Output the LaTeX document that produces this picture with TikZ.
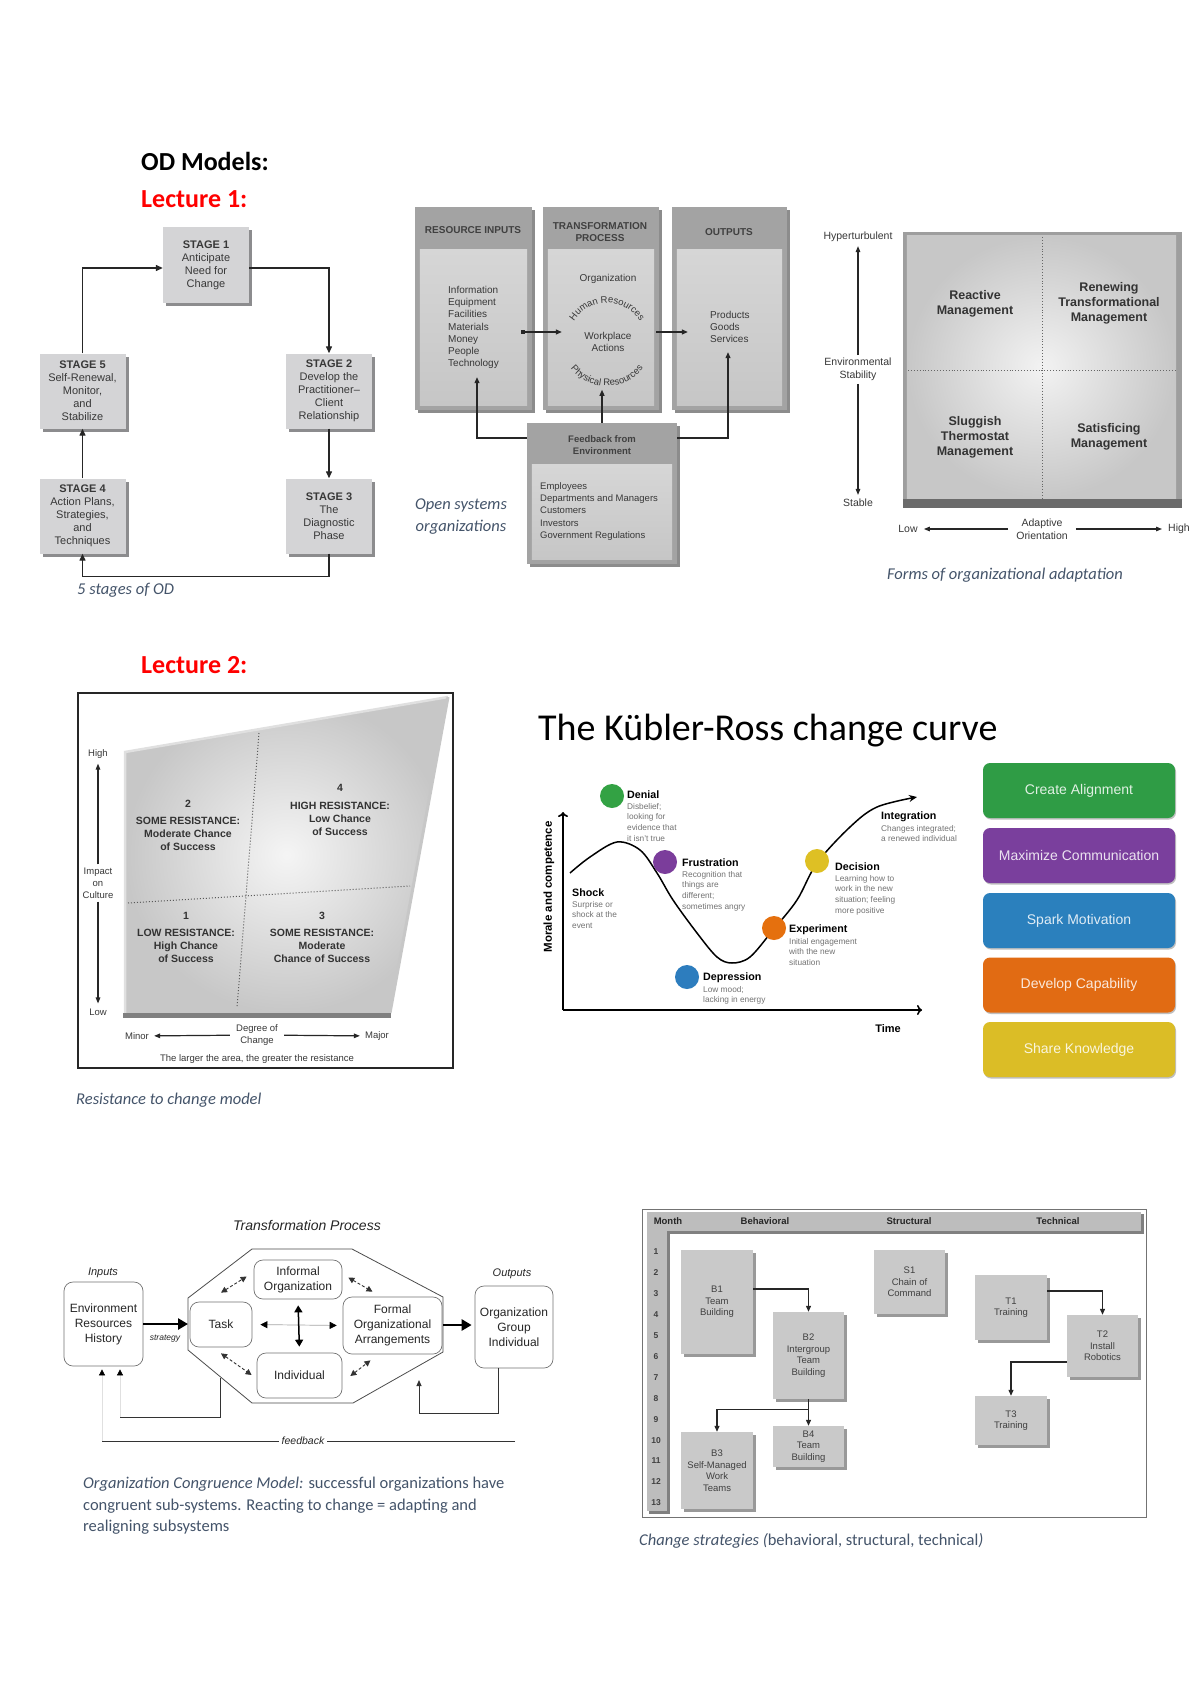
\documentclass[tikz,border=0pt]{standalone}
\usepackage{fontspec}
\setmainfont{Liberation Sans}
\newfontfamily\calfont{Carlito}
\usetikzlibrary{arrows.meta,shadows,decorations.text,calc}
\newcommand\myfs[2]{\fontsize{#1}{#2}\selectfont}
\definecolor{capblue}{HTML}{44546A}
\definecolor{lecred}{HTML}{FF0000}
\definecolor{stgray}{HTML}{D4D4D6}
\definecolor{shgray}{HTML}{8C8C8E}
\definecolor{dtext}{HTML}{383838}
\definecolor{osframe}{HTML}{A3A3A3}
\definecolor{osmid}{HTML}{D6D6D6}
\definecolor{oslight}{HTML}{EDEDED}
\definecolor{osdark}{HTML}{C6C6C6}
\definecolor{kgreen}{HTML}{33A244}
\definecolor{kpurple}{HTML}{7B3D9B}
\definecolor{kblue}{HTML}{2D7DBE}
\definecolor{korange}{HTML}{E5700E}
\definecolor{kyellow}{HTML}{DEC024}
\definecolor{bgreen}{HTML}{2F9C45}
\definecolor{bpurple}{HTML}{7A3F9D}
\definecolor{bblue}{HTML}{2B80BD}
\definecolor{borange}{HTML}{E16B13}
\definecolor{byellow}{HTML}{DBBD26}
\definecolor{csgray}{HTML}{C9C9C9}
\definecolor{csbar}{HTML}{BDBDBD}
\begin{document}
\begin{tikzpicture}[x=1pt,y=-1pt,
  stagebox/.style={fill=stgray, minimum width=86, minimum height=75, inner sep=1pt, align=center, font=\myfs{11}{13}, text=dtext, drop shadow={shadow xshift=3pt, shadow yshift=-3pt, fill=shgray, opacity=1}},
  sconn/.style={draw=black!85, line width=1.3pt, -{Triangle[length=7pt,width=6pt]}},
  captxt/.style={font=\calfont\itshape\myfs{16.5}{22}, text=capblue, inner sep=0pt},
  lecture/.style={font=\calfont\bfseries\myfs{26}{30}, inner sep=0pt, anchor=west},
  osbox/.style={fill=osframe, minimum height=203, inner sep=0pt, drop shadow={shadow xshift=3pt, shadow yshift=-3pt, fill=black!45, opacity=1}},
  oshead/.style={font=\bfseries\myfs{10}{12}, text=black!75, align=center, inner sep=0pt},
  ostext/.style={font=\myfs{10}{12.2}, text=dtext, align=left, inner sep=0pt, anchor=west},
  osarr/.style={draw=black!85, line width=1.2pt, -{Triangle[length=6pt,width=5pt]}},
  qlabel/.style={font=\bfseries\myfs{12.5}{15}, text=black!80, align=center, inner sep=0pt},
  axlab/.style={font=\myfs{10.5}{12.5}, text=dtext, align=center, inner sep=0pt},
  axarr/.style={draw=black!85, line width=1.2pt, -{Triangle[length=6pt,width=4.5pt]}},
  rlabel/.style={font=\bfseries\myfs{10.5}{13}, text=black!80, align=center, inner sep=0pt},
  ktitle/.style={font=\bfseries\myfs{10.7}{12}, anchor=west, inner sep=0pt},
  ksub/.style={font=\myfs{8.3}{10.7}, text=black!55, anchor=north west, align=left, inner sep=0pt},
  kdot/.style={circle, minimum size=24, inner sep=0pt},
  btn/.style={rounded corners=7pt, minimum width=192, minimum height=55, inner sep=0pt, font=\myfs{14}{16}, text=white, text opacity=0.85, drop shadow={shadow xshift=1pt, shadow yshift=-1.5pt, fill=black!25, opacity=1}},
  cbox/.style={draw=black!55, line width=0.7pt, rounded corners=9pt, inner sep=0pt, align=center, font=\myfs{12}{15}, text=black!85},
  cline/.style={draw=black!70, line width=0.8pt},
  cthick/.style={draw=black, line width=2.6pt, -{Triangle[length=10pt,width=11pt]}},
  cdiag/.style={draw=black!80, line width=0.9pt, densely dashed, {Triangle[length=6pt,width=6pt]}-{Triangle[length=6pt,width=6pt]}},
  cfb/.style={draw=black!80, line width=0.9pt},
  cmlab/.style={font=\itshape\myfs{11}{13}, text=black!85, inner sep=1pt},
  csbox/.style={fill=csgray, inner sep=0pt, align=center, font=\myfs{9.5}{11.5}, text=black!75, drop shadow={shadow xshift=3pt, shadow yshift=-3pt, fill=black!40, opacity=1}},
  csarr/.style={draw=black!85, line width=1.1pt, -{Triangle[length=6pt,width=5pt]}},
]
\fill[white] (0,0) rectangle (1200,1696);
\useasboundingbox (0,0) rectangle (1200,1696);

% ---------------- Section 1: five stages
\node[lecture] (odm) at (141,161) {OD Models:};
\node[lecture, text=lecred] (lec1) at (141,199) {Lecture 1:};
\node[stagebox] (s1) at (206,265) {\textbf{STAGE 1}\\Anticipate\\Need for\\Change};
\node[stagebox] (s2) at (329,391) {\textbf{STAGE 2}\\Develop the\\Practitioner--\\Client\\Relationship};
\node[stagebox] (s3) at (329,516) {\textbf{STAGE 3}\\The\\Diagnostic\\Phase};
\node[stagebox] (s4) at (82.5,516) {\textbf{STAGE 4}\\Action Plans,\\Strategies,\\and\\Techniques};
\node[stagebox] (s5) at (82.5,391) {\textbf{STAGE 5}\\Self-Renewal,\\Monitor,\\and\\Stabilize};
\draw[sconn] (s5.north) |- ($(s1.west)+(0,3)$);
\draw[sconn] ($(s1.east)+(0,3)$) -| (s2.north);
\draw[sconn] (s2.south) -- (s3.north);
\draw[sconn] (s3.south) -- ++(0,23) -| (s4.south);
\draw[sconn] (s4.north) -- (s5.south);
\node[captxt, anchor=west] (cap1) at (77,590) {5 stages of OD};

% ---------------- Section 2: open systems
\node[osbox, minimum width=117] (ri) at (473.5,308.5) {};
\node[osbox, minimum width=116] (tp) at (601,308.5) {};
\node[osbox, minimum width=115] (op) at (729.5,308.5) {};
\foreach \b in {ri,tp,op}
  \shade[top color=osmid, middle color=oslight, bottom color=osdark] ($(\b.north west)+(5,43)$) rectangle ($(\b.south east)+(-5,-5)$);
\node[oshead] (rih) at (473,230) {RESOURCE INPUTS};
\node[oshead] (tph) at (600,232) {TRANSFORMATION\\PROCESS};
\node[oshead] (oph) at (729,232) {OUTPUTS};
\node[ostext] (rit) at (448,327.5) {Information\\Equipment\\Facilities\\Materials\\Money\\People\\Technology};
\node[ostext, anchor=center, align=center] (tpo) at (608,279) {Organization};
\node[ostext, anchor=center, align=center] (tpw) at (608,342) {Workplace\\Actions};
\path[decorate, decoration={text along path, text align=center, text={|\myfs{9.5}{10}\color{dtext}|Human Resources}}] (607,342) ++(-168:39) arc[start angle=-168, end angle=-12, radius=39];
\path[decorate, decoration={text along path, text align=center, text={|\myfs{9.5}{10}\color{dtext}|Physical Resources}}] (607,340) ++(165:46) arc[start angle=165, end angle=15, radius=46];
\node[ostext] (opt) at (710,327) {Products\\Goods\\Services};
\coordinate (riout) at ($(ri.east)+(-11,23.5)$);
\coordinate (tpin) at ($(tp.west)+(19,23.5)$);
\draw[osarr, {Square[length=4pt,width=4pt]}-{Triangle[length=6pt,width=5pt]}] (riout) -- (tpin);
\coordinate (tpout) at ($(tp.east)+(-3,23.5)$);
\coordinate (opin) at ($(op.west)+(16,23.5)$);
\draw[osarr] (tpout) -- (opin);
\node[osbox, minimum width=150, minimum height=141] (fb) at (602,493.5) {};
\shade[top color=osmid, middle color=oslight, bottom color=osdark] ($(fb.north west)+(5,42)$) rectangle ($(fb.south east)+(-5,-5)$);
\node[oshead, font=\bfseries\myfs{9.5}{12}] (fbh) at (602,445) {Feedback from\\Environment};
\node[ostext, font=\myfs{9.5}{12.2}] (fbt) at (540,511.5) {Employees\\Departments and Managers\\Customers\\Investors\\Government Regulations};
\draw[osarr] ($(fb.west)+(0,-55.5)$) -| ($(ri.south)+(3.5,-33)$);
\draw[osarr] (fb.north) -- ++(0,-33);
\draw[osarr] ($(fb.east)+(0,-55.5)$) -| ($(op.south)+(-1.5,-58)$);
\node[captxt, align=center] (cap2) at (461,517) {Open systems\\organizations};

% ---------------- Section 3: forms of adaptation
\node[fill=black!38, minimum width=279, minimum height=276, inner sep=0pt] (fsq) at (1042.5,370) {};
\fill[black!58] ($(fsq.south west)+(0,-9)$) rectangle (fsq.south east);
\shade[inner color=white!95!black, outer color=black!22] ($(fsq.north west)+(4,4)$) rectangle ($(fsq.south east)+(-6,-10)$);
\draw[black!60, line width=0.9pt, dotted] (1042,237) -- (1042,499);
\draw[black!60, line width=0.9pt, dotted] (908,370) -- (1175,370);
\node[qlabel] (qra) at (975,303.5) {Reactive\\Management};
\node[qlabel] (qrt) at (1109,303) {Renewing\\Transformational\\Management};
\node[qlabel] (qst) at (975,437) {Sluggish\\Thermostat\\Management};
\node[qlabel] (qsm) at (1109,436.5) {Satisficing\\Management};
\node[axlab] (hyp) at (858,237) {Hyperturbulent};
\node[axlab] (env) at (858,369.5) {Environmental\\Stability};
\node[axlab] (stb) at (858,503) {Stable};
\draw[axarr, shorten >=4pt, shorten <=3pt] (env) -- (hyp);
\draw[axarr, shorten >=4pt, shorten <=3pt] (env) -- (stb);
\node[axlab] (low) at (908,529) {Low};
\node[axlab] (ado) at (1042,529) {Adaptive\\Orientation};
\node[axlab] (high) at (1179,529) {High};
\draw[axarr, shorten >=6pt, shorten <=8pt] (ado) -- (low);
\draw[axarr, shorten >=6pt, shorten <=8pt] (ado) -- (high);
\node[captxt] (cap3) at (1005,575) {Forms of organizational adaptation};

% ---------------- Section 4: resistance to change
\node[lecture, text=lecred] (lec2) at (141,665) {Lecture 2:};
\node[draw=black!85, line width=1.2pt, minimum width=375, minimum height=375, inner sep=0pt] (rframe) at (265.5,880.5) {};
\shade[inner color=white!96!black, outer color=black!22] (125,752) -- (448,697) -- (390,1013) -- (125,1013) -- cycle;
\draw[black!12, line width=2.5pt] (125,1013) -- (125,752) -- (448,697);
\draw[black!22, line width=3pt] (448,697) -- (390,1013);
\draw[black!50, line width=5pt] (123,1015) -- (391,1015);
\draw[black!65, line width=1pt, dotted] (259,733) -- (237,1008);
\draw[black!65, line width=1pt, dotted] (128,903) -- (410,886);
\node[rlabel] (rq2) at (188,825) {2\\[4pt]SOME RESISTANCE:\\Moderate Chance\\of Success};
\node[rlabel] (rq4) at (340,810) {4\\[5pt]HIGH RESISTANCE:\\Low Chance\\of Success};
\node[rlabel] (rq1) at (186,937.5) {1\\[4pt]LOW RESISTANCE:\\High Chance\\of Success};
\node[rlabel] (rq3) at (322,937.5) {3\\[4pt]SOME RESISTANCE:\\Moderate\\Chance of Success};
\node[axlab, font=\myfs{9.5}{12}] (rhigh) at (98,754) {High};
\node[axlab, font=\myfs{9.5}{12}] (rimp) at (98,883) {Impact\\on\\Culture};
\node[axlab, font=\myfs{9.5}{12}] (rlow) at (98,1012) {Low};
\draw[axarr, shorten >=5pt, shorten <=3pt] (rimp) -- (rhigh);
\draw[axarr, shorten >=5pt, shorten <=3pt] (rimp) -- (rlow);
\node[axlab, font=\myfs{9.5}{12}] (rminor) at (137,1036) {Minor};
\node[axlab, font=\myfs{9.5}{12}] (rdeg) at (257,1035) {Degree of\\Change};
\node[axlab, font=\myfs{9.5}{12}] (rmajor) at (377,1036) {Major};
\draw[axarr, shorten >=5pt, shorten <=6pt] (rdeg) -- (rminor);
\draw[axarr, shorten >=5pt, shorten <=6pt] (rdeg) -- (rmajor);
\node[axlab, font=\myfs{9.5}{12}] (rnote) at (257,1059) {The larger the area, the greater the resistance};
\node[captxt, anchor=west] (cap4) at (76,1100) {Resistance to change model};

% ---------------- Section 5: Kubler-Ross curve
\node[font=\calfont\myfs{38}{44}, anchor=west, inner sep=0pt] (krt) at (538,731) {The Kübler-Ross change curve};
\coordinate (korig) at (563,1010);
\coordinate (ktop) at (563,812);
\coordinate (kright) at (922,1010);
\draw[line width=1.6pt, -{To[length=5pt,width=10pt]}] (korig) -- (ktop);
\draw[line width=1.6pt, -{To[length=5pt,width=10pt]}] (korig) -- (kright);
\node[rotate=90, font=\bfseries\myfs{11.5}{13}, inner sep=0pt] (kmor) at (549,887) {Morale and competence};
\node[font=\bfseries\myfs{11}{13}, inner sep=0pt] (ktime) at (888,1029) {Time};
\draw[line width=1.5pt, -{Stealth[length=8pt,width=7pt]}] plot[smooth, tension=0.55] coordinates {(570,873) (590,857) (617,842) (640,850) (657,873) (673,900) (697,933) (717,957) (732,963) (750,957) (773,930) (797,900) (817,863) (850,827) (877,807) (917,797)};
\node[kdot, fill=kgreen] (kden) at (612,796) {};
\node[kdot, fill=kpurple] (kfru) at (665,862) {};
\node[kdot, fill=kblue] (kdep) at (687,977) {};
\node[kdot, fill=korange] (kexp) at (774,928) {};
\node[kdot, fill=kyellow] (kdec) at (817,861) {};
\node[ktitle] (tden) at (627,795) {Denial};
\node[ksub] (sden) at (627,803) {Disbelief;\\looking for\\evidence that\\it isn't true};
\node[ktitle] (tfru) at (682,863) {Frustration};
\node[ksub] (sfru) at (682,871) {Recognition that\\things are\\different;\\sometimes angry};
\node[ktitle] (tsho) at (572,893) {Shock};
\node[ksub] (ssho) at (572,901) {Surprise or\\shock at the\\event};
\node[ktitle] (tdep) at (703,978) {Depression};
\node[ksub] (sdep) at (703,986) {Low mood;\\lacking in energy};
\node[ktitle] (texp) at (789,930) {Experiment};
\node[ksub] (sexp) at (789,938) {Initial engagement\\with the new\\situation};
\node[ktitle] (tdec) at (835,867) {Decision};
\node[ksub] (sdec) at (835,875) {Learning how to\\work in the new\\situation; feeling\\more positive};
\node[ktitle] (tint) at (881,817) {Integration};
\node[ksub] (sint) at (881,825) {Changes integrated;\\a renewed individual};

% ---------------- Section 6: buttons
\node[btn, fill=bgreen] (b1) at (1079,790.5) {Create Alignment};
\node[btn, fill=bpurple] (b2) at (1079,855.5) {Maximize Communication};
\node[btn, fill=bblue] (b3) at (1079,920.5) {Spark Motivation};
\node[btn, fill=borange] (b4) at (1079,985) {Develop Capability};
\node[btn, fill=byellow] (b5) at (1079,1049.5) {Share Knowledge};

% ---------------- Section 7: congruence model
\node[cmlab, font=\itshape\myfs{14}{16}] (ctp) at (307,1225) {Transformation Process};
\node[cmlab] (cin) at (103,1273) {Inputs};
\node[cmlab] (cout) at (512,1274) {Outputs};
\node[cbox, minimum width=79, minimum height=84] (cenv) at (103.5,1324) {Environment\\Resources\\History};
\node[cbox, minimum width=78, minimum height=82] (coutb) at (514,1327) {Organization\\Group\\Individual};
\draw[cline] (188,1298) -- (252,1249) -- (352,1249) -- (443,1297) -- (443,1352) -- (353,1403) -- (252,1403) -- (188,1350) -- cycle;
\node[cbox, minimum width=62, minimum height=45] (ctask) at (221,1324.5) {Task};
\node[cbox, minimum width=88, minimum height=39] (cinf) at (298,1279.5) {Informal\\Organization};
\node[cbox, minimum width=99, minimum height=57] (cform) at (392.5,1325.5) {Formal\\Organizational\\Arrangements};
\node[cbox, minimum width=85, minimum height=45] (cind) at (299.5,1375.5) {Individual};
\draw[draw=black!35, line width=0.7pt, shorten <=8pt, shorten >=6pt, {Triangle[length=7pt,width=7pt,color=black]}-{Triangle[length=7pt,width=7pt,color=black]}] (ctask.east) -- (cform.west);
\draw[draw=black, line width=1.5pt, shorten <=6pt, shorten >=6pt, {Triangle[length=7pt,width=8pt]}-{Triangle[length=7pt,width=8pt]}] (cinf.south) -- (cind.north);
\draw[cdiag] ($(ctask.north)+(0,-9)$) -- ($(cinf.west)+(-7,-3)$);
\draw[cdiag] ($(cinf.east)+(6,-2)$) -- ($(cform.north)+(-20,-5)$);
\draw[cdiag] ($(ctask.south)+(0,6)$) -- ($(cind.west)+(-5,-0.5)$);
\draw[cdiag] ($(cind.east)+(8,0.5)$) -- ($(cform.south)+(-22,6)$);
\coordinate (coctl) at (188,1324);
\coordinate (coctr) at (443,1325);
\draw[cthick] (cenv.east) -- (coctl);
\node[cmlab, font=\itshape\myfs{8.5}{10}] (cstrat) at (165,1339) {strategy};
\draw[cthick] (coctr) -- ($(coutb.west)+(-3,-2)$);
\coordinate (cfbin) at (419,1380);
\draw[cfb, -{Triangle[length=6pt,width=5pt]}] ($(coutb.south)+(-16,0)$) -- ++(0,45) -| (cfbin);
\coordinate (coctbl) at (220,1378);
\draw[cfb] (coctbl) -- ++(0,39) -- (120,1417);
\draw[draw=black!12, line width=0.6pt, -{Triangle[length=6pt,width=6pt,color=black]}] (120,1417) -- ($(cenv.south)+(16.5,3)$);
\draw[cfb] (515,1441) -- (102,1441);
\draw[draw=black!12, line width=0.6pt, -{Triangle[length=6pt,width=6pt,color=black]}] (102,1441) -- ($(cenv.south)+(-1.5,3)$);
\node[cmlab, fill=white, font=\itshape\myfs{10.5}{12}, inner sep=3pt] (cfbl) at (303,1441) {feedback};
\node[font=\calfont\myfs{16.5}{21.5}, text=capblue, anchor=west, align=left, inner sep=0pt] (cap7) at (83,1506) {\textit{Organization Congruence Model:} successful organizations have\\congruent sub-systems. Reacting to change = adapting and\\realigning subsystems};

% ---------------- Section 8: change strategies
\node[draw=black!55, line width=0.8pt, minimum width=504, minimum height=308, inner sep=0pt] (csframe) at (894,1363) {};
\fill[black!50] (649,1214) rectangle (1144,1234);
\fill[black!50] (649,1214) rectangle (670,1514);
\fill[csbar] (647,1212) rectangle (1141,1231);
\fill[csbar] (647,1212) rectangle (667,1511);
\node[font=\bfseries\myfs{9.5}{11}, text=black!85, inner sep=0pt] (hmon) at (668,1221) {Month};
\node[font=\bfseries\myfs{9.5}{11}, text=black!85, inner sep=0pt] (hbeh) at (765,1221) {Behavioral};
\node[font=\bfseries\myfs{9.5}{11}, text=black!85, inner sep=0pt] (hstr) at (909,1221) {Structural};
\node[font=\bfseries\myfs{9.5}{11}, text=black!85, inner sep=0pt] (htec) at (1058,1221) {Technical};
\foreach \i in {1,...,13}
  \node[font=\bfseries\myfs{8.5}{10}, text=black!75, inner sep=0pt] (m\i) at (656,{1252+(\i-1)*20.9}) {\i};
\node[csbox, minimum width=72, minimum height=104] (cb1) at (717,1302) {B1\\Team\\Building};
\node[csbox, minimum width=71, minimum height=87] (cb2) at (808.5,1355.5) {B2\\Intergroup\\Team\\Building};
\node[csbox, minimum width=72, minimum height=77] (cb3) at (717,1470.5) {B3\\Self-Managed\\Work\\Teams};
\node[csbox, minimum width=71, minimum height=41] (cb4) at (808.5,1446.5) {B4\\Team\\Building};
\node[csbox, minimum width=71, minimum height=64] (cs1) at (909.5,1282) {S1\\Chain of\\Command};
\node[csbox, minimum width=72, minimum height=65] (ct1) at (1011,1307.5) {T1\\Training};
\node[csbox, minimum width=71, minimum height=62] (ct2) at (1102.5,1346) {T2\\Install\\Robotics};
\node[csbox, minimum width=72, minimum height=49] (ct3) at (1011,1420.5) {T3\\Training};
\draw[csarr] ($(cb1.east)+(0,-13)$) -| (cb2.north);
\draw[csarr] (cb2.south) -- (cb4.north);
\draw[csarr] (cb2.south) -- ++(0,10) -| (cb3.north);
\draw[csarr] ($(ct1.east)+(0,-16.5)$) -| (ct2.north);
\draw[csarr] ($(ct2.west)+(0,16)$) -| (ct3.north);
\node[font=\calfont\myfs{16.5}{21.5}, text=capblue, anchor=west, inner sep=0pt] (cap8) at (639,1541) {\textit{Change strategies (}behavioral, structural, technical\textit{)}};
\end{tikzpicture}
\end{document}
